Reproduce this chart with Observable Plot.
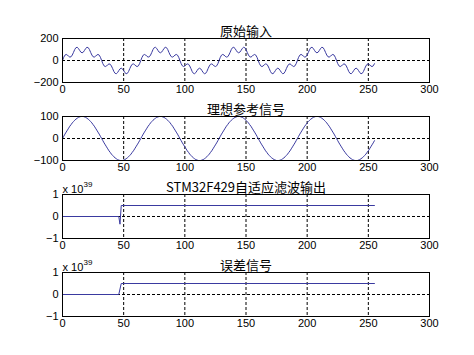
<!DOCTYPE html>
<html><head><meta charset="utf-8">
<script src="https://cdn.jsdelivr.net/npm/d3@7"></script>
<script src="https://cdn.jsdelivr.net/npm/@observablehq/plot@0.6"></script>
<style>
body{margin:0;background:#fff;}
#chart{position:relative;width:474px;height:355px;background:#fff;}
#chart svg{position:absolute;left:0;}
</style></head><body><div id="chart"></div>
<script>
const titles = ["原始输入", "理想参考信号", "STM32F429自适应滤波输出", "误差信号"];
const xTicks = [0, 50, 100, 150, 200, 250, 300];
const yTicks1 = [-200, 0, 200];
const yTicks2 = [-100, 0, 100];
const yTicks34 = [-1, 0, 1];
const exponentBase = "x 10";
const exponentPower = "39";

// 原始输入 (n = 0..255)
const inputSignal = [
0,29,49,55,50,38,31,34,50,74,100,117,120,110,92,76,70,76,92,110,120,117,100,74,50,34,31,38,50,55,49,29,
0,-29,-49,-55,-50,-38,-31,-34,-50,-74,-100,-117,-120,-110,-92,-76,-70,-76,-92,-110,-120,-117,-100,-74,-50,-34,-31,-38,-50,-55,-49,-29,
0,29,49,55,50,38,31,34,50,74,100,117,120,110,92,76,70,76,92,110,120,117,100,74,50,34,31,38,50,55,49,29,
0,-29,-49,-55,-50,-38,-31,-34,-50,-74,-100,-117,-120,-110,-92,-76,-70,-76,-92,-110,-120,-117,-100,-74,-50,-34,-31,-38,-50,-55,-49,-29,
0,29,49,55,50,38,31,34,50,74,100,117,120,110,92,76,70,76,92,110,120,117,100,74,50,34,31,38,50,55,49,29,
0,-29,-49,-55,-50,-38,-31,-34,-50,-74,-100,-117,-120,-110,-92,-76,-70,-76,-92,-110,-120,-117,-100,-74,-50,-34,-31,-38,-50,-55,-49,-29,
0,29,49,55,50,38,31,34,50,74,100,117,120,110,92,76,70,76,92,110,120,117,100,74,50,34,31,38,50,55,49,29,
0,-29,-49,-55,-50,-38,-31,-34,-50,-74,-100,-117,-120,-110,-92,-76,-70,-76,-92,-110,-120,-117,-100,-74,-50,-34,-31,-38,-50,-55,-49,-29
];

// 理想参考信号 (n = 0..255)
const idealSignal = [
0,10,20,29,38,47,56,63,71,77,83,88,92,96,98,100,100,100,98,96,92,88,83,77,71,63,56,47,38,29,20,10,
0,-10,-20,-29,-38,-47,-56,-63,-71,-77,-83,-88,-92,-96,-98,-100,-100,-100,-98,-96,-92,-88,-83,-77,-71,-63,-56,-47,-38,-29,-20,-10,
0,10,20,29,38,47,56,63,71,77,83,88,92,96,98,100,100,100,98,96,92,88,83,77,71,63,56,47,38,29,20,10,
0,-10,-20,-29,-38,-47,-56,-63,-71,-77,-83,-88,-92,-96,-98,-100,-100,-100,-98,-96,-92,-88,-83,-77,-71,-63,-56,-47,-38,-29,-20,-10,
0,10,20,29,38,47,56,63,71,77,83,88,92,96,98,100,100,100,98,96,92,88,83,77,71,63,56,47,38,29,20,10,
0,-10,-20,-29,-38,-47,-56,-63,-71,-77,-83,-88,-92,-96,-98,-100,-100,-100,-98,-96,-92,-88,-83,-77,-71,-63,-56,-47,-38,-29,-20,-10,
0,10,20,29,38,47,56,63,71,77,83,88,92,96,98,100,100,100,98,96,92,88,83,77,71,63,56,47,38,29,20,10,
0,-10,-20,-29,-38,-47,-56,-63,-71,-77,-83,-88,-92,-96,-98,-100,-100,-100,-98,-96,-92,-88,-83,-77,-71,-63,-56,-47,-38,-29,-20,-10
];

// STM32F429自适应滤波输出 (units of 1e39)
const filterN = [0, 46, 47, 48, 255];
const filterV = [0, 0, -0.35, 0.5, 0.5];

// 误差信号 (units of 1e39)
const errorN = [0, 46, 48, 255];
const errorV = [0, 0, 0.5, 0.5];

const lineColor = "#3a3aa0";
const gridStyle = {stroke: "black", strokeDasharray: "3,2", strokeWidth: 1};
const latin = "'Liberation Sans', Arial, sans-serif";
const cjk = "'Noto Sans CJK SC', 'Liberation Sans', sans-serif";

const panels = [
  {data: inputSignal.map((v, n) => ({n, v})), domain: [-200, 200], ticks: yTicks1, exp: false},
  {data: idealSignal.map((v, n) => ({n, v})), domain: [-100, 100], ticks: yTicks2, exp: false},
  {data: filterN.map((n, i) => ({n, v: filterV[i]})), domain: [-1, 1], ticks: yTicks34, exp: true},
  {data: errorN.map((n, i) => ({n, v: errorV[i]})), domain: [-1, 1], ticks: yTicks34, exp: true}
];

const chart = document.getElementById("chart");
panels.forEach((p, i) => {
  const marks = [
    Plot.ruleX(xTicks, {x: d => d, ...gridStyle}),
    Plot.ruleY(p.ticks, {y: d => d, ...gridStyle}),
    Plot.line(p.data, {x: "n", y: "v", stroke: lineColor, strokeWidth: 1}),
    Plot.frame({stroke: "black", strokeWidth: 1}),
    Plot.axisX(xTicks, {tickSize: 0, tickPadding: 3, fontSize: 11, label: null}),
    Plot.axisY(p.ticks, {tickSize: 0, tickPadding: 4, fontSize: 11, label: null}),
    Plot.text([titles[i]], {text: d => d, frameAnchor: "top", dy: -12, fontSize: 13, fontFamily: cjk, fill: "black"})
  ];
  if (p.exp) {
    marks.push(Plot.text([exponentBase], {text: d => d, frameAnchor: "top-left", textAnchor: "start", dy: -9, fontSize: 11, fill: "black"}));
    marks.push(Plot.text([exponentPower], {text: d => d, frameAnchor: "top-left", textAnchor: "start", dx: 21, dy: -13, fontSize: 8, fill: "black"}));
  }
  const svg = Plot.plot({
    width: 474,
    height: 82,
    marginLeft: 62,
    marginRight: 45,
    marginTop: 22,
    marginBottom: 16,
    x: {domain: [0, 300], label: null},
    y: {domain: p.domain, label: null},
    style: {background: "transparent", overflow: "visible", fontFamily: latin, fontSize: "11px", color: "black"},
    marks
  });
  svg.style.top = (16 + 78 * i) + "px";
  chart.appendChild(svg);
});
</script></body></html>
